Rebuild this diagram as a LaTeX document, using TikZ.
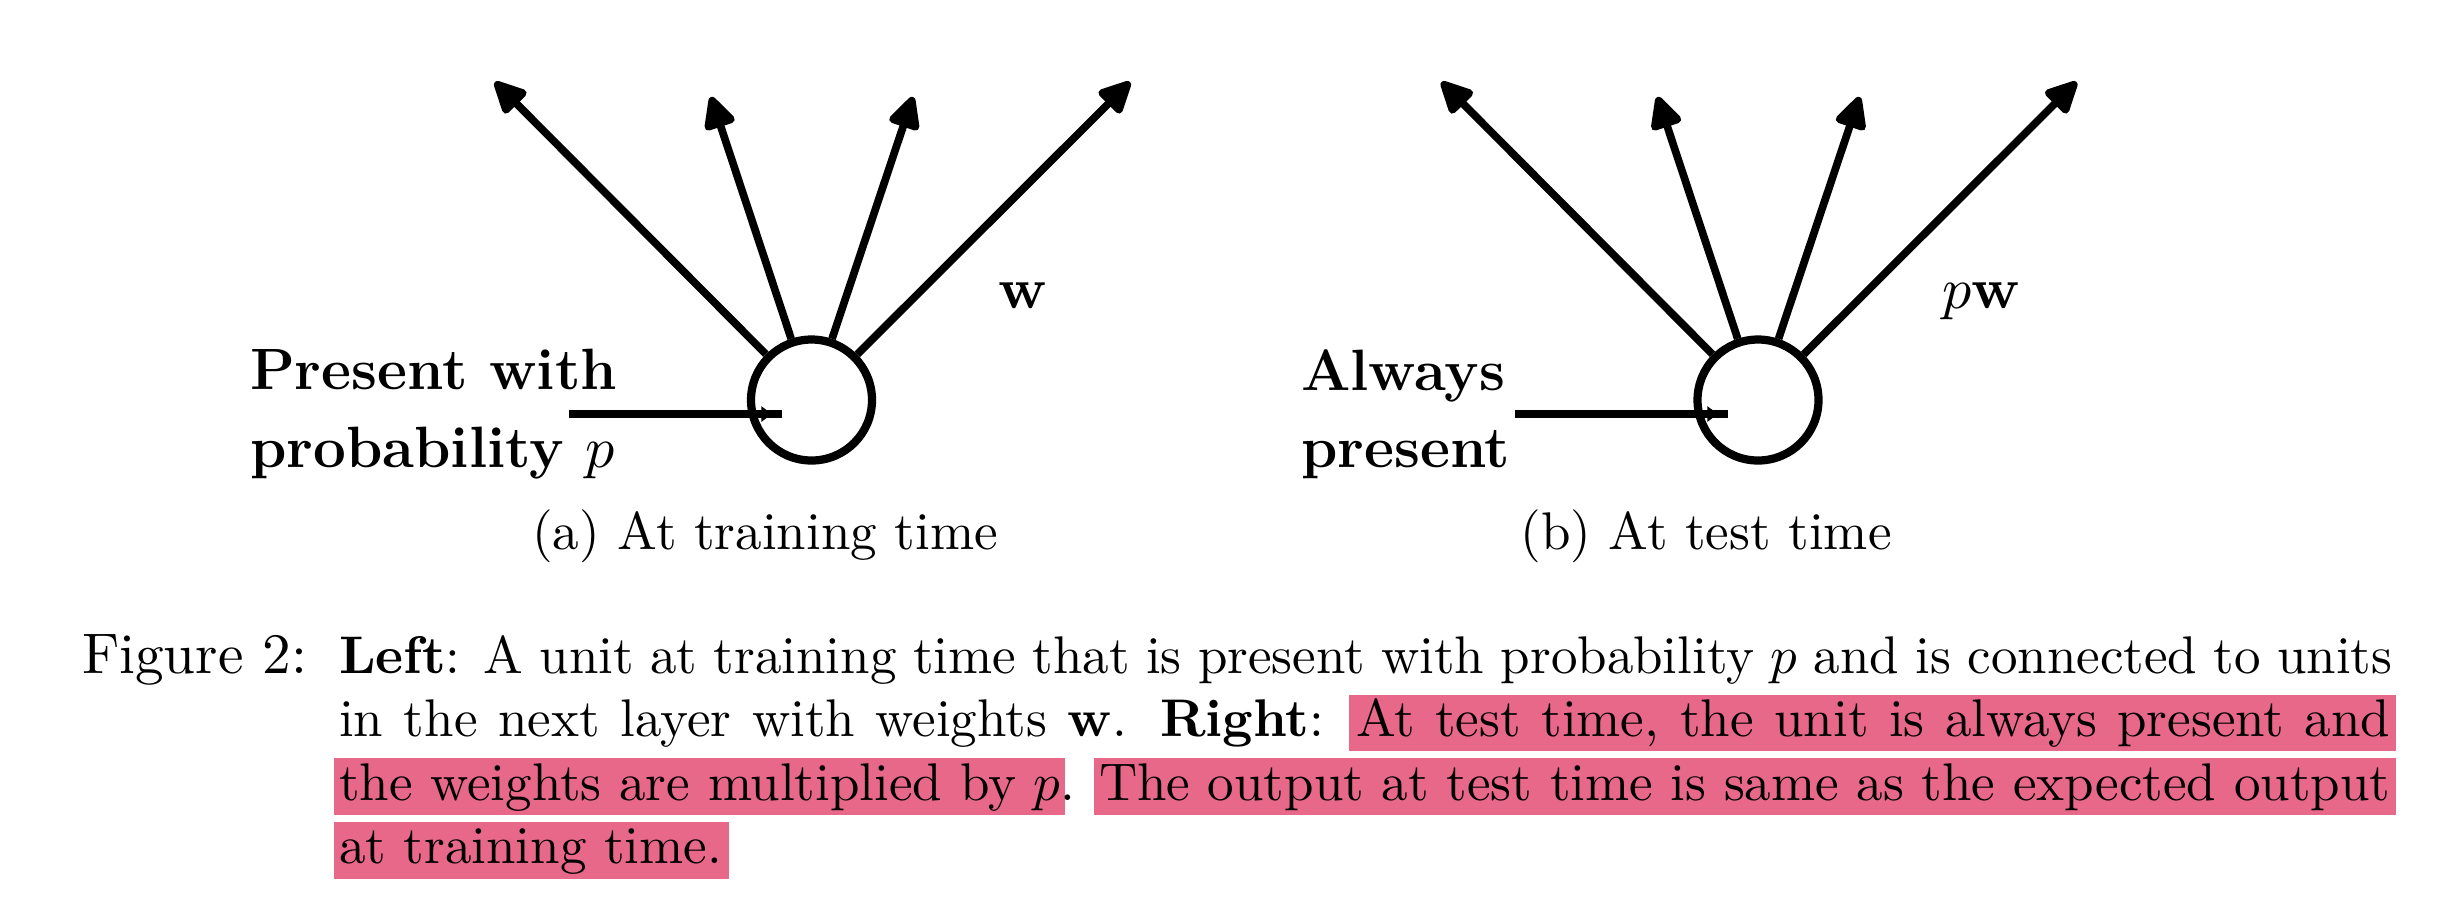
\documentclass[tikz,border=0pt]{standalone}
\usetikzlibrary{arrows.meta}
\definecolor{hlpink}{RGB}{232,104,138}
\begin{document}
\begin{tikzpicture}[x=0.188679pt,y=-0.188679pt,
  unitnode/.style={circle,draw,line width=1.55pt,minimum size=22.83pt,inner sep=0pt},
  outarrow/.style={line width=1.45pt,-{Triangle[length=6.9pt,width=6.4pt,round]}},
  inarrow/.style={line width=1.35pt,-{Triangle[length=2pt,width=2.8pt]}},
  inseg/.style={line width=1.35pt},
  lbl/.style={anchor=base west,inner sep=0pt,font=\fontsize{11}{14}\bfseries},
  wlbl/.style={anchor=base west,inner sep=0pt,font=\fontsize{11}{14}\selectfont},
  subcap/.style={anchor=base,inner sep=0pt,font=\fontsize{10}{12}\selectfont},
  captxt/.style={anchor=base west,inner sep=0pt,font=\fontsize{10}{12}\selectfont},
  hlbox/.style={fill=hlpink,draw=none}]
\useasboundingbox (0,0) rectangle (2442,908);

% ---------- left panel ----------
\node[unitnode] (ua) at (811.5,400) {};
\coordinate (a1) at (495,82);
\coordinate (a2) at (711,97);
\coordinate (a3) at (913,97);
\coordinate (a4) at (1130,82);
\draw[outarrow] (ua) -- (a1);
\draw[outarrow] (ua) -- (a2);
\draw[outarrow] (ua) -- (a3);
\draw[outarrow] (ua) -- (a4);
\coordinate (ain) at (569,414);
\coordinate (aintip) at (772,414);
\coordinate (ainmid) at (758,414);
\coordinate (ainend) at (782,414);
\draw[inarrow] (ain) -- (aintip);
\draw[inseg] (ainmid) -- (ainend);
\node[lbl] (la1) at (249,389) {Present with};
\node[lbl] (la2) at (249,467) {probability $p$};
\node[wlbl] (wa) at (997,308) {$\mathbf{w}$};
\node[subcap] (sa) at (765,549) {(a) At training time};

% ---------- right panel ----------
\node[unitnode] (ub) at (1758,400) {};
\coordinate (b1) at (1441.5,82);
\coordinate (b2) at (1657.5,97);
\coordinate (b3) at (1859.5,97);
\coordinate (b4) at (2076.5,82);
\draw[outarrow] (ub) -- (b1);
\draw[outarrow] (ub) -- (b2);
\draw[outarrow] (ub) -- (b3);
\draw[outarrow] (ub) -- (b4);
\coordinate (bin) at (1515,414);
\coordinate (bintip) at (1718,414);
\coordinate (binmid) at (1704,414);
\coordinate (binend) at (1728,414);
\draw[inarrow] (bin) -- (bintip);
\draw[inseg] (binmid) -- (binend);
\node[lbl] (lb1) at (1300,390) {Always};
\node[lbl] (lb2) at (1300,467) {present};
\node[wlbl] (wb) at (1941,308) {$p\mathbf{w}$};
\node[subcap] (sb) at (1706,549) {(b) At test time};

% ---------- caption ----------
\fill[hlbox] (1349,695) rectangle (2396,751);
\fill[hlbox] (334,758) rectangle (1065,815);
\fill[hlbox] (1094,758) rectangle (2396,815);
\fill[hlbox] (334,822) rectangle (729,879);

\node[captxt,font=\fontsize{10.8}{12}\selectfont] (fig) at (81,673) {Figure 2:};
\node[captxt] (c1) at (338,673) {\makebox[387.4pt][s]{\textbf{Left}: A unit at training time that is present with probability $p$ and is connected to units}};
\node[captxt] (c2a) at (338,736) {\makebox[185.8pt][s]{in the next layer with weights $\mathbf{w}$. \textbf{Right}:}};
\node[captxt] (c2b) at (1355,736) {\makebox[195.1pt][s]{At test time, the unit is always present and}};
\node[captxt] (c3a) at (338,800) {\makebox[138.9pt][s]{the weights are multiplied by $p$.}};
\node[captxt] (c3b) at (1098,800) {\makebox[243.6pt][s]{The output at test time is same as the expected output}};
\node[captxt] (c4) at (338,863) {at training time.};
\end{tikzpicture}
\end{document}
